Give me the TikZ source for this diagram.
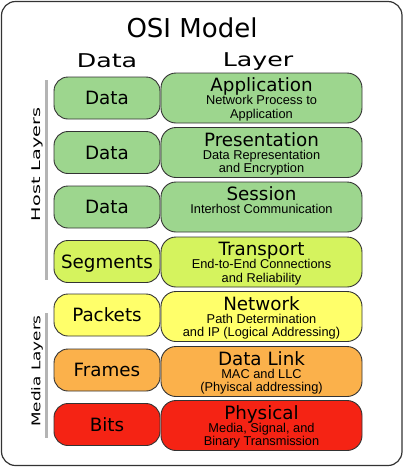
\documentclass[tikz,border=0pt]{standalone}
\usepackage{fontspec}
\setmainfont{Liberation Sans}
\newfontfamily\headfont{DejaVu Sans}
\usetikzlibrary{positioning}
\definecolor{hostgreen}{HTML}{9DD68E}
\definecolor{transgreen}{HTML}{D5F35E}
\definecolor{netyellow}{HTML}{FFFF6A}
\definecolor{linkorange}{HTML}{FBB14B}
\definecolor{physred}{HTML}{F52314}
\definecolor{boxline}{HTML}{333333}
\definecolor{bargray}{HTML}{B4B4B4}
\newcommand\laytitle{\headfont\fontsize{18.3}{13.2}\selectfont}
\newcommand\laysub{\fontsize{12.8}{13.2}\selectfont\lineskiplimit=-20pt}

\begin{document}
\begin{tikzpicture}[x=1pt, y=-1pt,
  databox/.style={draw=boxline, line width=0.9pt, rounded corners=14pt, minimum width=106pt, minimum height=42pt, inner sep=0pt, text height=13.5pt, text depth=0pt, font=\headfont\fontsize{18.3}{20}\selectfont},
  layerbox/.style={draw=boxline, line width=0.9pt, rounded corners=15pt, minimum width=201pt, minimum height=50pt, inner sep=0pt, text height=45.1pt, text depth=4.9pt, align=center, font=\laysub},
  twoline/.style={text height=31.9pt, text depth=18.1pt},
  head/.style={anchor=base, inner sep=0pt, font=\headfont\fontsize{19}{20}\selectfont},
  side/.style={rotate=90, inner sep=0pt, font=\headfont\fontsize{12}{14}\selectfont},
  bar/.style={draw=bargray, line width=3pt}
]
\useasboundingbox (0,0) rectangle (404,467);
\draw[line width=1.2pt, rounded corners=14pt, draw=boxline] (1.5,1.5) rectangle (402,465.5);

% title and column heads
\node[anchor=base, inner sep=0pt, font=\headfont\fontsize{26}{28}\selectfont] (title) at (192,37) {OSI Model};
\node[head] (hdata) at (107,67) {\scalebox{1.33}[1]{Data}};
\node[head] (hlayer) at (258,66) {\scalebox{1.33}[1]{Layer}};

% host layers
\node[databox, fill=hostgreen] (d7) at (107,98) {Data};
\node[layerbox, fill=hostgreen] (app) at (261.5,98) {{\laytitle Application}\\Network Process to\\Application};
\node[databox, fill=hostgreen] (d6) at (107,152.5) {Data};
\node[layerbox, fill=hostgreen] (pres) at (261.5,152.5) {{\laytitle Presentation}\\Data Representation\\and Encryption};
\node[databox, fill=hostgreen] (d5) at (107,207) {Data};
\node[layerbox, twoline, fill=hostgreen] (sess) at (261.5,207) {{\laytitle Session}\\Interhost Communication};
\node[databox, fill=transgreen] (d4) at (107,261.5) {Segments};
\node[layerbox, fill=transgreen] (trans) at (261.5,262) {{\laytitle Transport}\\End-to-End Connections\\and Reliability};

% media layers
\node[databox, fill=netyellow] (d3) at (107,315) {Packets};
\node[layerbox, fill=netyellow] (net) at (261.5,316.5) {{\laytitle Network}\\Path Determination\\and IP (Logical Addressing)};
\node[databox, fill=linkorange] (d2) at (107,370) {Frames};
\node[layerbox, fill=linkorange] (link) at (261.5,371.5) {{\laytitle Data Link}\\MAC and LLC\\(Phyiscal addressing)};
\node[databox, fill=physred] (d1) at (107,424.5) {Bits};
\node[layerbox, fill=physred] (phys) at (261.5,425.5) {{\laytitle Physical}\\Media, Signal, and\\Binary Transmission};

% side labels
\draw[bar] (46,80) -- (46,280);
\draw[bar] (46,313) -- (46,438);
\node[side] (host) at (37,164.5) {\scalebox{1.6}[1]{Host Layers}};
\node[side] (media) at (37,371) {\scalebox{1.4}[1]{Media Layers}};
\end{tikzpicture}
\end{document}
